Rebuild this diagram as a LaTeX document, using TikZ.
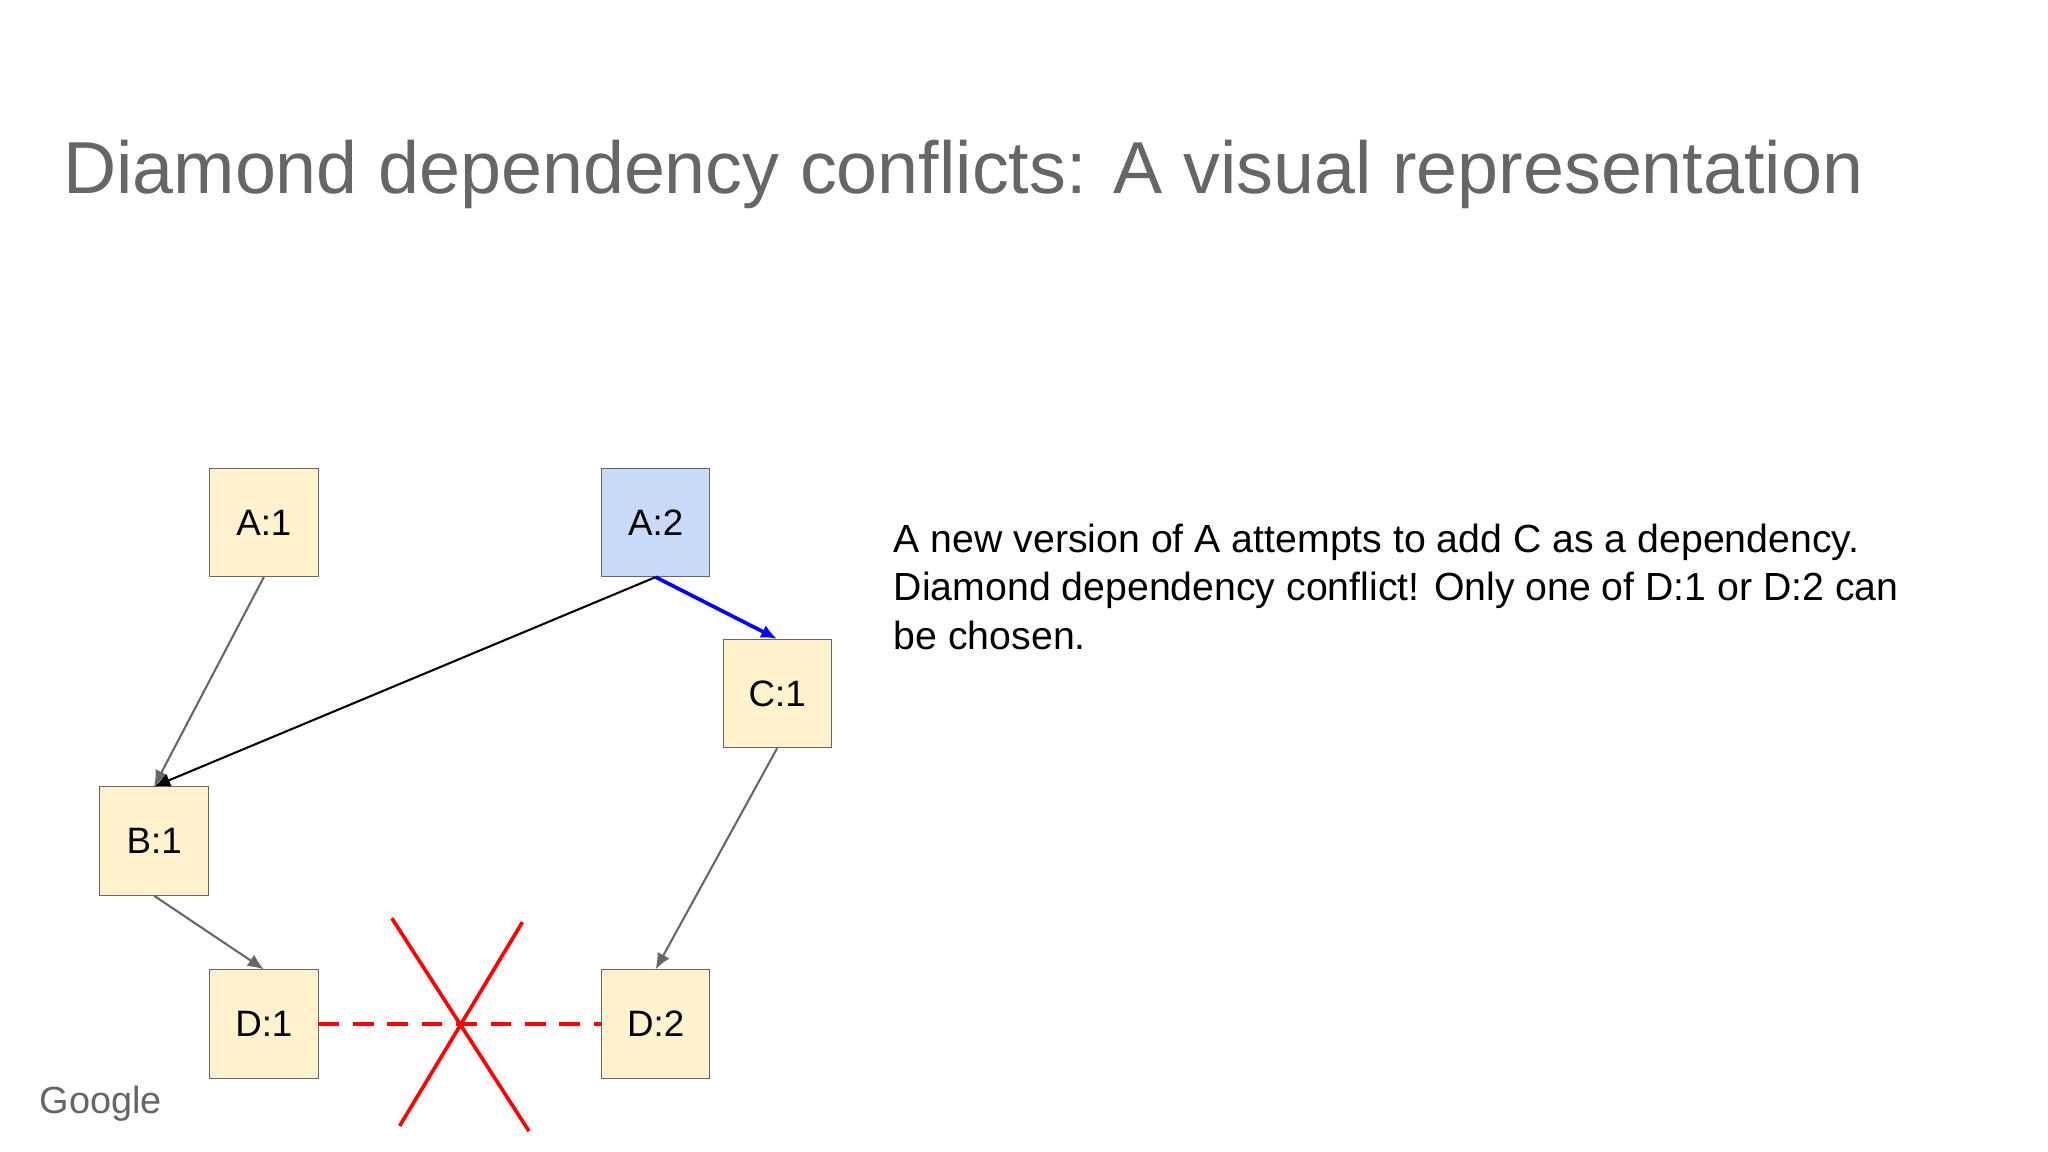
\documentclass[tikz,border=0pt]{standalone}
\usepackage{fontspec}
\setmainfont{Liberation Sans}
\usetikzlibrary{arrows.meta}
\definecolor{boxy}{HTML}{FFF2CC}
\definecolor{boxb}{HTML}{C9DAF8}
\definecolor{tgray}{HTML}{666666}
\begin{document}
\begin{tikzpicture}[x=0.02cm,y=-0.02cm,
  pk/.style={draw=tgray,fill=boxy,minimum size=1.66cm,inner sep=0,font=\fontsize{16}{18}\selectfont},
  dep/.style={draw=tgray,line width=0.9pt,-{Latex[length=7pt,width=6pt]}}]
\useasboundingbox (0,0) rectangle (1568,882);
\node[anchor=base west,text=tgray,font=\fontsize{32.1}{38}\selectfont,inner sep=0] (title) at (48,148) {Diamond dependency conflicts: A visual representation};
\node[pk] (a1) at (202,400) {A:1};
\node[pk,fill=boxb] (a2) at (502,400) {A:2};
\node[pk] (c1) at (595,531) {C:1};
\node[pk] (b1) at (118,644) {B:1};
\node[pk] (d1) at (202,784) {D:1};
\node[pk] (d2) at (502,784) {D:2};
\draw[dep] (a1.south) -- (b1.north);
\draw[dep,draw=black] (a2.south) -- (b1.north);
\draw[dep,draw=blue,line width=1.6pt] (a2.south) -- (c1.north);
\draw[dep] (c1.south) -- (d2.north);
\draw[dep] (b1.south) -- (d1.north);
\draw[red,dashed,line width=1.6pt,dash pattern=on 9pt off 6pt] (d1.east) -- (d2.west);
\coordinate (x1) at (300,703); \coordinate (x2) at (405,866);
\coordinate (x3) at (400,706); \coordinate (x4) at (306,862);
\draw[red,line width=1.6pt] (x1) -- (x2) (x3) -- (x4);
\node[anchor=north west,align=left,inner sep=0,font=\fontsize{17.1}{21}\selectfont] (txt) at (684,401) {A new version of A attempts to add C as a dependency.\\Diamond dependency conflict! Only one of D:1 or D:2 can\\be chosen.};
\node[anchor=west,text=tgray,font=\fontsize{16.5}{18}\selectfont,inner sep=0] (g) at (30,845) {Google};
\end{tikzpicture}
\end{document}
